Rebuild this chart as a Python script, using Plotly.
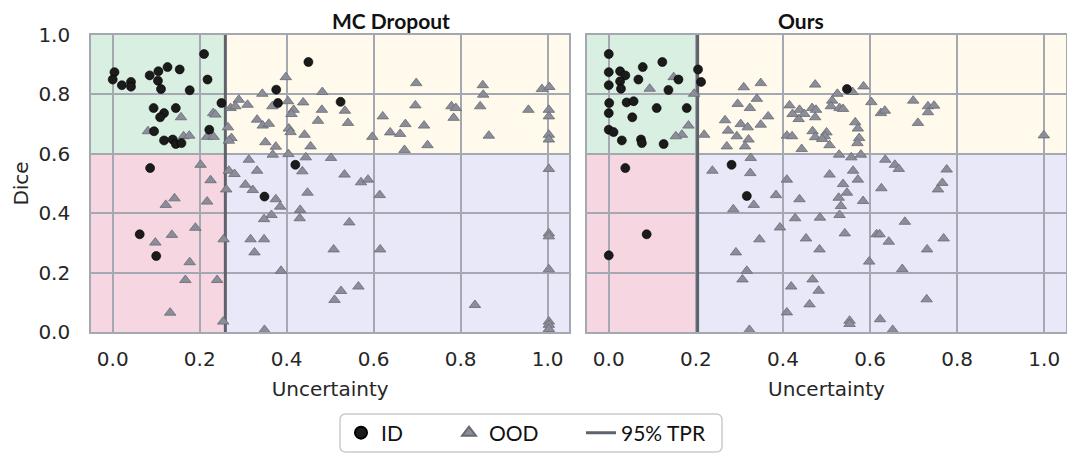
"""Dice vs. uncertainty scatter: MC Dropout compared with ours."""

import plotly.graph_objects as go
from plotly.subplots import make_subplots

# ---- data ----
MC_THRESHOLD = 0.259
OURS_THRESHOLD = 0.204
DICE_SPLIT = 0.6

mc_id_unc = [0.210, 0.004, 0.000, 0.021, 0.042, 0.042, 0.085, 0.105, 0.126, 0.154,
             0.104, 0.111, 0.177, 0.218, 0.450, 0.376, 0.380, 0.250, 0.094, 0.145,
             0.118, 0.109, 0.095, 0.222, 0.118, 0.138, 0.145, 0.158, 0.086, 0.420,
             0.349, 0.062, 0.100, 0.524]
mc_id_dice = [0.936, 0.875, 0.850, 0.831, 0.842, 0.826, 0.864, 0.878, 0.892, 0.884,
              0.846, 0.818, 0.814, 0.850, 0.909, 0.816, 0.771, 0.771, 0.754, 0.754,
              0.737, 0.723, 0.676, 0.681, 0.645, 0.648, 0.633, 0.636, 0.552, 0.563,
              0.456, 0.329, 0.256, 0.775]

mc_ood_unc = [0.398, 0.344, 0.482, 0.290, 0.271, 0.282, 0.310, 0.367, 0.403, 0.438,
              0.416, 0.411, 0.481, 0.472, 0.332, 0.345, 0.359, 0.405, 0.409, 0.441,
              0.351, 0.375, 0.455, 0.368, 0.404, 0.444, 0.436, 0.265, 0.273, 0.267,
              0.313, 0.332, 0.267, 0.280, 0.305, 0.157, 0.231, 0.236, 0.081, 0.163,
              0.176, 0.217, 0.232, 0.202, 0.225,
              0.698, 0.851, 0.852, 0.987, 1.004, 0.534, 0.541, 0.621, 0.696, 0.779,
              0.789, 0.784, 0.845, 0.956, 1.003, 1.003, 0.673, 0.716, 0.638, 0.661,
              0.597, 0.724, 0.671, 0.865, 1.003, 1.003, 0.502, 0.533, 0.571, 0.587,
              1.003,
              0.614, 0.544, 0.508, 0.615, 1.003, 1.003, 1.003, 0.525, 0.510, 0.565,
              0.833, 1.003, 1.003, 1.003,
              0.142, 0.122, 0.217, 0.190, 0.136, 0.098, 0.177, 0.167, 0.240, 0.132,
              0.254, 0.255, 0.261, 0.322, 0.375, 0.385, 0.365, 0.348, 0.431, 0.430,
              0.448, 0.317, 0.348, 0.326, 0.387, 0.349]
mc_ood_dice = [0.858, 0.802, 0.808, 0.782, 0.754, 0.760, 0.765, 0.760, 0.777, 0.773,
               0.748, 0.734, 0.748, 0.711, 0.715, 0.695, 0.701, 0.685, 0.673, 0.664,
               0.639, 0.624, 0.625, 0.597, 0.599, 0.588, 0.541, 0.689, 0.653, 0.644,
               0.580, 0.543, 0.543, 0.532, 0.496, 0.723, 0.737, 0.732, 0.676, 0.659,
               0.661, 0.657, 0.657, 0.563, 0.511,
               0.838, 0.831, 0.799, 0.818, 0.825, 0.745, 0.704, 0.726, 0.763, 0.760,
               0.754, 0.721, 0.760, 0.748, 0.748, 0.726, 0.700, 0.695, 0.672, 0.667,
               0.657, 0.629, 0.613, 0.661, 0.664, 0.648, 0.586, 0.530, 0.504, 0.513,
               0.549,
               0.461, 0.369, 0.278, 0.278, 0.332, 0.322, 0.211, 0.138, 0.108, 0.153,
               0.091, 0.035, 0.024, 0.010,
               0.450, 0.428, 0.439, 0.351, 0.327, 0.301, 0.235, 0.175, 0.175, 0.065,
               0.035, 0.312, 0.480, 0.478, 0.447, 0.422, 0.394, 0.380, 0.411, 0.383,
               0.469, 0.312, 0.312, 0.268, 0.206, 0.007]

ours_id_unc = [0.000, 0.000, 0.026, 0.038, 0.078, 0.123, 0.026, 0.068, 0.000, 0.028,
               0.160, 0.137, 0.205, 0.212, 0.001, 0.041, 0.057, 0.110, 0.179, 0.000,
               0.054, 0.000, 0.011, 0.030, 0.074, 0.076, 0.126, 0.038, 0.282, 0.317,
               0.087, 0.000, 0.547]
ours_id_dice = [0.936, 0.875, 0.878, 0.864, 0.892, 0.909, 0.844, 0.850, 0.831, 0.819,
                0.850, 0.815, 0.884, 0.842, 0.771, 0.773, 0.777, 0.754, 0.754, 0.737,
                0.723, 0.681, 0.673, 0.645, 0.648, 0.636, 0.633, 0.552, 0.563, 0.458,
                0.329, 0.258, 0.818]

ours_ood_unc = [0.149, 0.094, 0.196, 0.183, 0.168, 0.154, 0.219, 0.310, 0.349, 0.474,
                0.296, 0.324, 0.340, 0.366, 0.267, 0.274, 0.303, 0.319, 0.349, 0.294,
                0.321, 0.271, 0.313, 0.326, 0.415, 0.438, 0.449, 0.436, 0.467, 0.476,
                0.474, 0.422, 0.409, 0.421, 0.468, 0.474, 0.443, 0.238, 0.325, 0.409,
                0.384, 0.438, 0.333, 0.286, 0.428, 0.393, 0.346, 0.292, 0.453, 0.484,
                0.485, 0.317, 0.307, 0.419, 0.468, 0.482, 0.461, 0.409, 0.323,
                0.585, 0.525, 0.560, 0.603, 0.513, 0.510, 0.530, 0.538, 0.625, 0.634,
                0.699, 0.733, 0.747, 0.733, 0.710, 0.566, 0.572, 0.500, 0.496, 0.490,
                0.507, 0.575, 0.571, 0.999, 0.529, 0.557, 0.579, 0.635, 0.657, 0.666,
                0.776, 0.507, 0.561, 0.572, 0.538, 0.766,
                0.547, 0.528, 0.533, 0.584, 0.626, 0.756, 0.530, 0.542, 0.680, 0.615,
                0.622, 0.643, 0.769, 0.731, 0.598, 0.674, 0.730, 0.553, 0.553, 0.623,
                0.652]
ours_ood_dice = [0.858, 0.819, 0.802, 0.695, 0.664, 0.659, 0.664, 0.824, 0.838, 0.833,
                 0.768, 0.754, 0.785, 0.726, 0.713, 0.678, 0.700, 0.689, 0.698, 0.659,
                 0.648, 0.625, 0.625, 0.586, 0.763, 0.748, 0.734, 0.717, 0.754, 0.748,
                 0.723, 0.734, 0.661, 0.659, 0.676, 0.656, 0.616, 0.543, 0.535, 0.513,
                 0.461, 0.447, 0.428, 0.413, 0.383, 0.352, 0.312, 0.268, 0.315, 0.278,
                 0.385, 0.206, 0.177, 0.153, 0.177, 0.139, 0.093, 0.066, 0.007,
                 0.827, 0.802, 0.808, 0.774, 0.779, 0.760, 0.754, 0.751, 0.737, 0.745,
                 0.779, 0.760, 0.762, 0.740, 0.704, 0.706, 0.685, 0.672, 0.659, 0.650,
                 0.629, 0.653, 0.636, 0.662, 0.597, 0.588, 0.597, 0.580, 0.563, 0.549,
                 0.547, 0.530, 0.543, 0.513, 0.498, 0.502,
                 0.469, 0.452, 0.424, 0.441, 0.484, 0.480, 0.394, 0.332, 0.371, 0.329,
                 0.329, 0.304, 0.315, 0.278, 0.237, 0.212, 0.110, 0.038, 0.027, 0.043,
                 0.007]

tick_values = [0.0, 0.2, 0.4, 0.6, 0.8, 1.0]

# ---- layout, in page pixels (the page body adds an 8px offset) ----
OFF = 8
W, H = 1075 - OFF, 454 - OFF
PLOT_L, PLOT_R, PLOT_T, PLOT_B = 91, 1066, 35, 332
PW, PH = PLOT_R - PLOT_L, PLOT_B - PLOT_T


def px_x(px):
    return (px - PLOT_L) / PW


def px_y(py):
    return (PLOT_B - py) / PH


X_RANGE = [-0.05, 1.05]
GRID = "#a4a8b1"
TICK_FONT = dict(family="DejaVu Sans", size=20, color="#262626")
LABEL_FONT = dict(family="Lato", size=21, color="#111111")
LEGEND_FONT = dict(family="Lato", size=21, color="#111111")

QUAD_COLORS = {
    "green": "#d9efe1",
    "pink": "#f5d6e1",
    "yellow": "#fffaec",
    "lavender": "#e9e8f9",
}

panels = [
    (MC_THRESHOLD, mc_id_unc, mc_id_dice, mc_ood_unc, mc_ood_dice),
    (OURS_THRESHOLD, ours_id_unc, ours_id_dice, ours_ood_unc, ours_ood_dice),
]

fig = make_subplots(rows=1, cols=2)

for col, (thr, id_x, id_y, ood_x, ood_y) in enumerate(panels, start=1):
    first = col == 1
    xref = "x" if first else "x2"
    yref = "y" if first else "y2"

    # quadrant backgrounds, split at threshold and dice = 0.6
    quads = [
        (X_RANGE[0], thr, DICE_SPLIT, 1.0, "green"),
        (X_RANGE[0], thr, 0.0, DICE_SPLIT, "pink"),
        (thr, X_RANGE[1], DICE_SPLIT, 1.0, "yellow"),
        (thr, X_RANGE[1], 0.0, DICE_SPLIT, "lavender"),
    ]
    for x0, x1, y0, y1, key in quads:
        fig.add_shape(
            type="rect", xref=xref, yref=yref, x0=x0, x1=x1, y0=y0, y1=y1,
            fillcolor=QUAD_COLORS[key], line_width=0, layer="below",
        )

    fig.add_trace(
        go.Scatter(
            x=[thr, thr], y=[0, 1], mode="lines", name="95% TPR",
            line=dict(color="#5e626b", width=3), showlegend=first,
            legend="legend3",
        ),
        row=1, col=col,
    )
    fig.add_trace(
        go.Scatter(
            x=ood_x, y=ood_y, mode="markers", name="OOD",
            marker=dict(symbol="triangle-up", size=10, color="#8b8e98",
                        line=dict(color="#676a73", width=0.8)),
            showlegend=first, legend="legend2",
        ),
        row=1, col=col,
    )
    fig.add_trace(
        go.Scatter(
            x=id_x, y=id_y, mode="markers", name="ID",
            marker=dict(symbol="circle", size=9, color="#1b1b1b",
                        line=dict(color="#000000", width=0.6)),
            showlegend=first, legend="legend",
        ),
        row=1, col=col,
    )

axis_common = dict(
    showgrid=True, gridcolor=GRID, gridwidth=1.6,
    showline=True, linecolor=GRID, linewidth=1.6, mirror=True,
    zeroline=False, tickfont=TICK_FONT, automargin=False,
    ticks="outside", tickcolor="rgba(0,0,0,0)",
)

fig.update_xaxes(
    range=X_RANGE, tickvals=tick_values, tickformat=".1f", ticklen=8,
    title=dict(text="Uncertainty", font=TICK_FONT, standoff=12),
    **axis_common,
)
fig.update_yaxes(
    range=[0, 1], tickvals=tick_values, tickformat=".1f", ticklen=15,
    **axis_common,
)
fig.update_yaxes(title=dict(text="Dice", font=TICK_FONT, standoff=4), row=1, col=1)
fig.update_yaxes(showticklabels=False, row=1, col=2)


def legend_at(symbol_center_px, sizing="trace"):
    # horizontal legend whose symbol is centred at the given page x
    return dict(
        orientation="h", x=px_x(symbol_center_px - 25), xanchor="left",
        y=px_y(433), yanchor="middle", font=LEGEND_FONT,
        bgcolor="rgba(0,0,0,0)", borderwidth=0, itemwidth=30,
        itemsizing=sizing,
    )


# rounded legend frame, page px -> paper coords
bx0, bx1, by0, by1, r = 340, 722, 414, 452, 6
rx, ry = r / PW, r / PH
X0, X1, Y0, Y1 = px_x(bx0), px_x(bx1), px_y(by1), px_y(by0)
frame_path = (
    f"M {X0 + rx},{Y0} L {X1 - rx},{Y0} Q {X1},{Y0} {X1},{Y0 + ry} "
    f"L {X1},{Y1 - ry} Q {X1},{Y1} {X1 - rx},{Y1} "
    f"L {X0 + rx},{Y1} Q {X0},{Y1} {X0},{Y1 - ry} "
    f"L {X0},{Y0 + ry} Q {X0},{Y0} {X0 + rx},{Y0} Z"
)
fig.add_shape(type="path", xref="paper", yref="paper", path=frame_path,
              line=dict(color="#cbcbcb", width=1.5), fillcolor="white", layer="below")

fig.update_layout(
    width=W, height=H,
    margin=dict(l=PLOT_L - OFF, r=W - (PLOT_R - OFF), t=PLOT_T - OFF,
                b=H - (PLOT_B - OFF), autoexpand=False),
    plot_bgcolor="white", paper_bgcolor="white",
    xaxis=dict(domain=[0, px_x(569.3)]),
    xaxis2=dict(domain=[px_x(587), 1]),
    yaxis=dict(domain=[0, 1]),
    yaxis2=dict(domain=[0, 1]),
    legend=legend_at(366, "constant"),
    legend2=legend_at(474, "constant"),
    legend3=legend_at(606),
    annotations=[
        dict(text="<b>MC Dropout</b>", x=px_x(330), y=px_y(21), xref="paper", yref="paper",
             showarrow=False, font=LABEL_FONT, yanchor="middle"),
        dict(text="<b>Ours</b>", x=px_x(826), y=px_y(21), xref="paper", yref="paper",
             showarrow=False, font=LABEL_FONT, yanchor="middle"),
    ],
    showlegend=True,
)

fig.write_html("out.html")
